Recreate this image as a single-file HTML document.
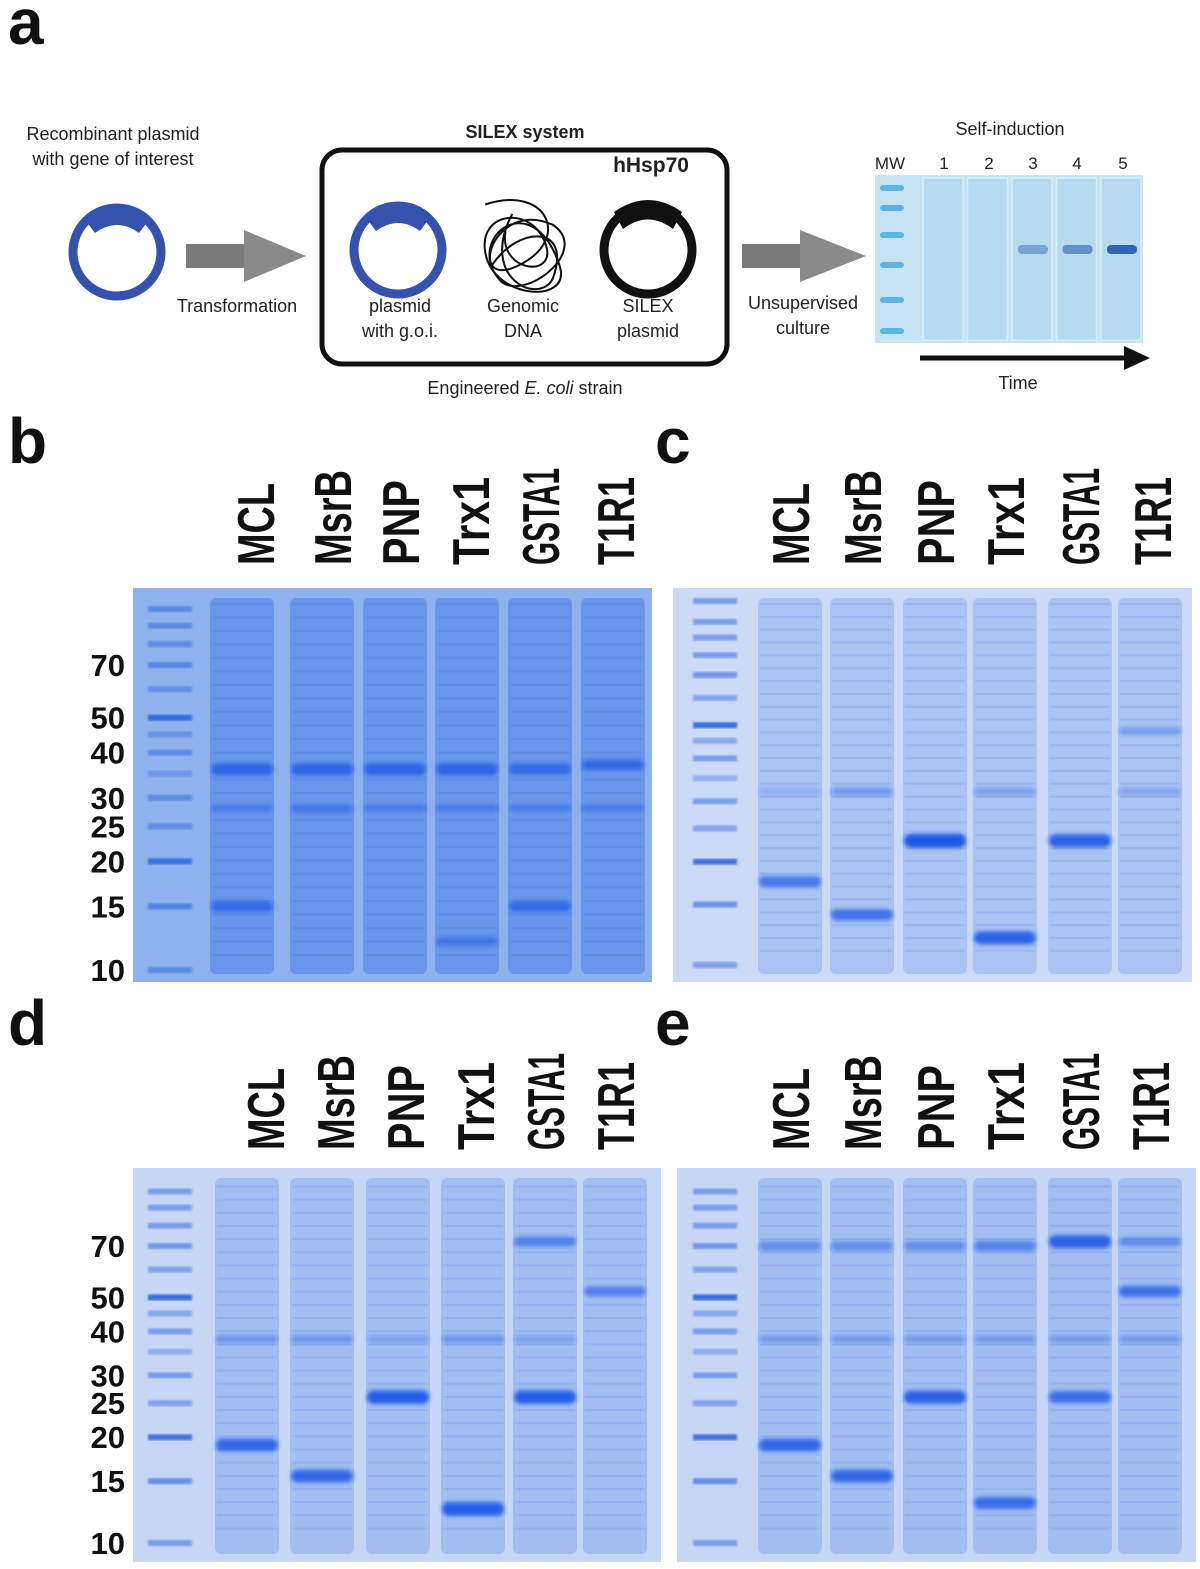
<!DOCTYPE html>
<html><head><meta charset="utf-8"><style>
body{margin:0;background:#fff}
svg{display:block;font-family:"Liberation Sans",sans-serif}
</style></head><body>
<svg id="fig" width="1200" height="1569" viewBox="0 0 1200 1569">
<defs>
<filter id="blur" x="-20%" y="-200%" width="140%" height="500%"><feGaussianBlur stdDeviation="2.2"/></filter>
<filter id="blur2"><feGaussianBlur stdDeviation="1"/></filter>
</defs>
<g font-weight="bold" font-size="64" fill="#111">
<text x="8" y="44">a</text><text x="8" y="463">b</text><text x="655" y="463">c</text><text x="8" y="1045">d</text><text x="655" y="1045">e</text>
</g>
<g id="panelA" font-size="18" fill="#222" text-anchor="middle">
<text x="113" y="140">Recombinant plasmid</text><text x="113" y="165">with gene of interest</text>
<g>
<circle cx="117" cy="252" r="44" fill="none" stroke="#3452ae" stroke-width="9"/>
<path d="M86 221 Q117 196 148 221 L139 233 Q117 217 95 233Z" fill="#3452ae"/>
</g>
<g><rect x="186" y="244" width="60" height="24" fill="#7a7a7a"/><polygon points="244,230 244,282 306,256" fill="#8a8a8a"/></g>
<text x="237" y="312">Transformation</text>
<text x="525" y="138" font-weight="bold">SILEX system</text>
<rect x="322" y="150" width="405" height="214" rx="20" fill="none" stroke="#111" stroke-width="5"/>
<g>
<circle cx="398" cy="250" r="44" fill="none" stroke="#3452ae" stroke-width="9"/>
<path d="M367 219 Q398 194 429 219 L420 231 Q398 215 376 231Z" fill="#3452ae"/></g>
<g fill="none" stroke="#111" stroke-width="1.5" transform="translate(523 245) scale(1.35) translate(-523 -245)">
<path d="M495 215 C540 200 560 240 520 260 C480 280 500 210 545 230 C575 250 520 290 505 270 C480 240 530 200 550 260 C560 290 500 285 495 250 C490 220 530 215 540 245 C548 270 505 265 510 235"/>
<path d="M500 260 C520 230 560 230 545 270 C535 290 490 270 515 222"/>
</g>
<g>
<circle cx="648" cy="250" r="44" fill="none" stroke="#111" stroke-width="9"/>
<path d="M614 212 Q648 188 682 212 L673 229 Q648 210 623 229Z" fill="#111"/></g>
<text x="651" y="172" font-weight="bold" font-size="21">hHsp70</text>
<text x="400" y="312">plasmid</text><text x="400" y="337">with g.o.i.</text>
<text x="523" y="312">Genomic</text><text x="523" y="337">DNA</text>
<text x="648" y="312">SILEX</text><text x="648" y="337">plasmid</text>
<text x="525" y="394">Engineered <tspan font-style="italic">E. coli</tspan> strain</text>
<g><rect x="742" y="244" width="60" height="24" fill="#7a7a7a"/><polygon points="800,230 800,282 866,256" fill="#8a8a8a"/></g>
<text x="803" y="309">Unsupervised</text><text x="803" y="334">culture</text>
<text x="1010" y="135">Self-induction</text>
<g font-size="17"><text x="890" y="169">MW</text><text x="944" y="169">1</text><text x="989" y="169">2</text><text x="1033" y="169">3</text><text x="1077" y="169">4</text><text x="1123" y="169">5</text></g>
<g id="miniGel"></g>
<line x1="920" y1="358" x2="1128" y2="358" stroke="#111" stroke-width="5"/>
<polygon points="1124,346 1150,358 1124,370" fill="#111"/>
<text x="1018" y="389">Time</text>
</g>
<g id="gels"></g>
</svg>
<script>
const NS="http://www.w3.org/2000/svg";
function mk(t,a,p){const e=document.createElementNS(NS,t);for(const k in a)e.setAttribute(k,a[k]);p.appendChild(e);return e;}
const mini=document.getElementById('miniGel');
const miniInduction=[0,0,0.45,0.6,0.95];
const miniLadder=[185,205,232,262,297,328];
mk('rect',{x:875,y:175,width:268,height:168,fill:'#c6e4f4'},mini);
miniLadder.forEach(y=>{const r=mk('rect',{x:880,y:y,width:24,height:6,rx:3,fill:'#5ab4e6'},mini);});
miniInduction.forEach((v,i)=>{const cx=944+i*44.5;
 const l=mk('rect',{x:cx-21,y:178,width:40,height:162,fill:'#b6daf0',stroke:'#d8eefa','stroke-width':1.5},mini);
 
 if(v>0){const b=mk('rect',{x:cx-15,y:245,width:30,height:9,rx:4,fill:'#2d5fb0','fill-opacity':v},mini);
 }});

const laneNames=['MCL','MsrB','PNP','Trx1','GSTA1','T1R1'];
const labelLen=[82,95,85,88,97,88];
const mwTicks=[70,50,40,30,25,20,15,10];
const ladderKda=[150,130,115,100,90,80,70,60,50,45,40,35,30,25,20,15,10];
const ladderStrength=[.5,.5,.5,.5,.5,.5,.55,.45,.9,.4,.5,.35,.5,.45,.85,.6,.5];
const bandsB=[[0,36,.8],[1,36,.8],[2,36,.8],[3,36,.8],[4,36,.7],[5,37,.7],[0,15,.7],[4,15,.7],[3,12,.5],[0,28,.4],[1,28,.5],[2,28,.4],[3,28,.4],[4,28,.4],[5,28,.4]];
const bandsC=[[2,23,1],[4,23,.9],[0,17.5,.7],[1,14,.75],[3,12,.9],[1,32,.4],[3,32,.35],[5,32,.3],[5,48,.35],[0,32,.2]];
const bandsD=[[0,19,.85],[1,15.5,.85],[2,26,.95],[3,12.5,.95],[4,26,.95],[5,52,.6],[4,72,.6],[0,38,.4],[1,38,.4],[2,38,.3],[3,38,.4],[4,38,.3]];
const bandsE=[[0,19,.85],[1,15.5,.85],[2,26,.9],[3,13,.8],[4,26,.8],[4,72,.9],[5,52,.75],[0,70,.5],[1,70,.5],[2,70,.5],[3,70,.6],[5,72,.5],[0,38,.35],[1,38,.35],[2,38,.35],[3,38,.35],[4,38,.35],[5,38,.35]];
const gelBg=[.8,.3,.35,.35];
const gels=[
 {name:'b',x:133,y:588,w:519,h:394,ladder:170,lanes:[242,322,395,467,540,613],y70:665,y10:970,labelX:[255,332,400,470,540,615],labelY:565,bands:bandsB,bg:gelBg[0],tickX:125,fill:'#8fb1ee'},
 {name:'c',x:673,y:588,w:519,h:394,ladder:715,lanes:[790,862,935,1005,1080,1150],y70:675,y10:965,labelX:[790,862,935,1005,1080,1152],labelY:565,bands:bandsC,bg:gelBg[1],tickX:null,fill:'#cbdaf7'},
 {name:'d',x:133,y:1168,w:528,h:394,ladder:170,lanes:[247,322,398,473,545,615],y70:1246,y10:1543,labelX:[265,335,405,475,545,615],labelY:1150,bands:bandsD,bg:gelBg[2],tickX:125,fill:'#c6d7f6'},
 {name:'e',x:677,y:1168,w:519,h:394,ladder:715,lanes:[790,862,935,1005,1080,1150],y70:1246,y10:1543,labelX:[790,862,935,1005,1080,1150],labelY:1150,bands:bandsE,bg:gelBg[3],tickX:null,fill:'#c6d7f6'}
];
const root=document.getElementById('gels');
gels.forEach(g=>{
 const grp=mk('g',{},root);
 
 
 const yOf=k=>g.y10-(Math.log10(k)-1)/(Math.log10(70)-1)*(g.y10-g.y70);
 const bgR=mk('rect',{x:g.x,y:g.y,width:g.w,height:g.h,fill:g.fill},grp);
 
 ladderKda.forEach((k,i)=>{const y=yOf(k);if(y<g.y+8)return;
  const b=mk('rect',{x:g.ladder-22,y:y-3,width:44,height:6,fill:'#2a62dd','fill-opacity':ladderStrength[i],filter:'url(#blur2)'},grp);
  });
 const top=g.y+10, bot=g.y+g.h-8;
 g.lanes.forEach((cx,i)=>{
  const l=mk('rect',{x:cx-32,y:top,width:64,height:bot-top,rx:6,fill:'#5f8fe8','fill-opacity':g.bg},grp);
  
  for(let k=11;k<200;k*=1.09){const y=yOf(k);if(y<top+4||y>bot-4)continue;
   const s=mk('rect',{x:cx-30,y:y-1,width:60,height:2,fill:'#3f72dc','fill-opacity':0.1+g.bg*0.15},grp);
   }
 });
 g.bands.forEach(b=>{const [li,k,v]=b;const cx=g.lanes[li];const y=yOf(k);const hh=4+v*10;
  const r=mk('rect',{x:cx-31,y:y-hh/2,width:62,height:hh,rx:hh/2,fill:'#1f5ae6','fill-opacity':v,filter:'url(#blur)'},grp);
  });
 laneNames.forEach((n,i)=>{const t=mk('text',{x:g.labelX[i],y:g.labelY,transform:`rotate(-90 ${g.labelX[i]} ${g.labelY})`,'font-size':'52','font-weight':'bold',fill:'#111',dy:'19',textLength:labelLen[i],lengthAdjust:'spacingAndGlyphs'},grp);
  t.textContent=n;});
 if(g.tickX){mwTicks.forEach(k=>{const t=mk('text',{x:g.tickX,y:yOf(k)+11,'text-anchor':'end','font-size':'31','font-weight':'bold',fill:'#111'},grp);
  t.textContent=k;});}
});
</script>
</body></html>
